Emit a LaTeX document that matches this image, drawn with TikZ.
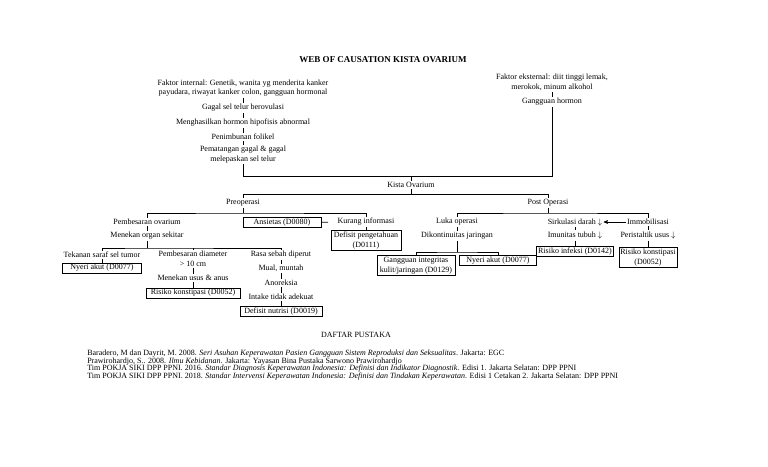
\documentclass[tikz,border=0pt]{standalone}
\usepackage{fontspec}
\setmainfont{Liberation Serif}
\usetikzlibrary{arrows}

\tikzset{
    txt/.style = {font=\fontsize{8}{9.5}\selectfont, inner sep=1.2pt, align=center},
    dx/.style = {txt, draw, inner sep=1.5pt},
    ref/.style = {font=\fontsize{8}{9}\selectfont, inner sep=0pt, anchor=west}
}

\begin{document}
\begin{tikzpicture}[x=1pt, y=-1pt, >=stealth', line width=0.6pt]
    \useasboundingbox (0,0) rectangle (768,466);

    \node[font=\fontsize{9}{10}\selectfont\bfseries] (title) at (383,60) {WEB OF CAUSATION KISTA OVARIUM};

    \node[txt] (fi) at (243,88) {Faktor internal: Genetik, wanita yg menderita kanker\\payudara, riwayat kanker colon, gangguan hormonal};
    \node[txt] (gagal) at (243,108) {Gagal sel telur berovulasi};
    \node[txt] (hipo) at (243,123) {Menghasilkan hormon hipofisis abnormal};
    \node[txt] (folikel) at (243,137) {Penimbunan folikel};
    \node[txt] (matang) at (243,154.5) {Pematangan gagal \& gagal\\melepaskan sel telur};

    \node[txt] (fe) at (552,82.5) {Faktor eksternal: diit tinggi lemak,\\merokok, minum alkohol};
    \node[txt] (hormon) at (552,102) {Gangguan hormon};

    \node[txt] (kista) at (411,185) {Kista Ovarium};
    \node[txt] (pre) at (243,203) {Preoperasi};
    \node[txt] (post) at (548,203) {Post Operasi};

    \coordinate (b0) at (243,176);
    \coordinate (b1) at (243,194);
    \coordinate (b2) at (243,213);
    \coordinate (b3) at (548,213);

    \node[txt] (ovar) at (147,222) {Pembesaran ovarium};
    \node[dx, minimum width=78pt] (ans) at (282,222.5) {Ansietas (D0080)};
    \node[txt] (info) at (366,222) {Kurang informasi};
    \node[dx, minimum width=70pt] (dpeng) at (366,240.5) {Defisit pengetahuan\\(D0111)};
    \node[txt] (organ) at (147,236) {Menekan organ sekitar};
    \coordinate (b4) at (147,248);

    \node[txt] (saraf) at (102,255) {Tekanan saraf sel tumor};
    \node[dx, minimum width=79pt] (nyeri1) at (102,268) {Nyeri akut (D0077)};
    \node[txt] (diam) at (193,259) {Pembesaran diameter\\> 10 cm};
    \node[txt] (usus) at (193,278) {Menekan usus \& anus};
    \node[dx, minimum width=94pt] (kons1) at (193,293) {Risiko konstipasi (D0052)};
    \node[txt] (sebah) at (281,255) {Rasa sebah diperut};
    \node[txt] (mual) at (281,268.5) {Mual, muntah};
    \node[txt] (anor) at (281,283) {Anoreksia};
    \node[txt] (intake) at (281,297) {Intake tidak adekuat};
    \node[dx, minimum width=82pt] (nutri) at (281,311.5) {Defisit nutrisi (D0019)};

    \node[txt] (luka) at (457,222) {Luka operasi};
    \node[txt] (dikon) at (457,236) {Dikontinuitas jaringan};
    \coordinate (b5) at (457,252);
    \node[dx, minimum width=78pt] (kulit) at (416,265.5) {Gangguan integritas\\kulit/jaringan (D0129)};
    \node[dx, minimum width=77pt] (nyeri2) at (498,260.5) {Nyeri akut (D0077)};
    \node[txt] (sirk) at (575,222) {Sirkulasi darah $\downarrow$};
    \node[txt] (imun) at (575,235.5) {Imunitas tubuh $\downarrow$};
    \node[dx, minimum width=76pt] (infeksi) at (575,251.5) {Risiko infeksi (D0142)};
    \node[txt] (immo) at (648,222) {Immobilisasi};
    \node[txt] (peri) at (648,235.5) {Peristaltik usus $\downarrow$};
    \node[dx] (kons2) at (648,257.5) {Risiko konstipasi\\(D0052)};

    \path
      (fi) edge (gagal)
      (gagal) edge (hipo)
      (hipo) edge (folikel)
      (folikel) edge (matang)
      (fe) edge (hormon)
      (ovar) edge (organ)
      (info) edge (dpeng)
      (info) edge [shorten <= 8pt] (ans)
      (saraf) edge (nyeri1)
      (diam) edge (usus)
      (usus) edge (kons1)
      (sebah) edge (mual)
      (mual) edge (anor)
      (anor) edge (intake)
      (intake) edge (nutri)
      (luka) edge (dikon)
      (sirk) edge (imun)
      (imun) edge (infeksi)
      (immo) edge (peri)
      (peri) edge (kons2)
    ;
    \path[->] (immo) edge (sirk);

    \draw (matang) -- (b0) -| (hormon);
    \draw (kista) -- (kista |- b0);
    \draw (kista) -- (kista |- b1);
    \draw (pre) -- (b1) -| (post);
    \draw (pre) -- (b2);
    \draw (ovar) |- (b2) -| (info);
    \draw (post) -- (b3);
    \draw (luka) |- (b3) -| (immo);
    \draw (organ) -- (b4);
    \draw (saraf) |- (b4) -| (sebah);
    \draw (diam) -- (diam |- b4);
    \draw (dikon) -- (b5);
    \draw (kulit) |- (b5) -| (nyeri2);

    \node (pustaka) at (356,335) [font=\fontsize{8}{9}\selectfont] {DAFTAR PUSTAKA};
    \node[ref] (r1) at (87,354) {Baradero, M dan Dayrit, M. 2008. \textit{Seri Asuhan Keperawatan Pasien Gangguan Sistem Reproduksi dan Seksualitas}. Jakarta: EGC};
    \node[ref] (r2) at (87,361.5) {Prawirohardjo, S.. 2008. \textit{Ilmu Kebidanan}. Jakarta: Yayasan Bina Pustaka Sarwono Prawirohardjo};
    \node[ref] (r3) at (87,369) {Tim POKJA SIKI DPP PPNI. 2016. \textit{Standar Diagnosis Keperawatan Indonesia: Definisi dan Indikator Diagnostik}. Edisi 1. Jakarta Selatan: DPP PPNI};
    \node[ref] (r4) at (87,376.5) {Tim POKJA SIKI DPP PPNI. 2018. \textit{Standar Intervensi Keperawatan Indonesia: Definisi dan Tindakan Keperawatan}. Edisi 1 Cetakan 2. Jakarta Selatan: DPP PPNI};
\end{tikzpicture}
\end{document}
